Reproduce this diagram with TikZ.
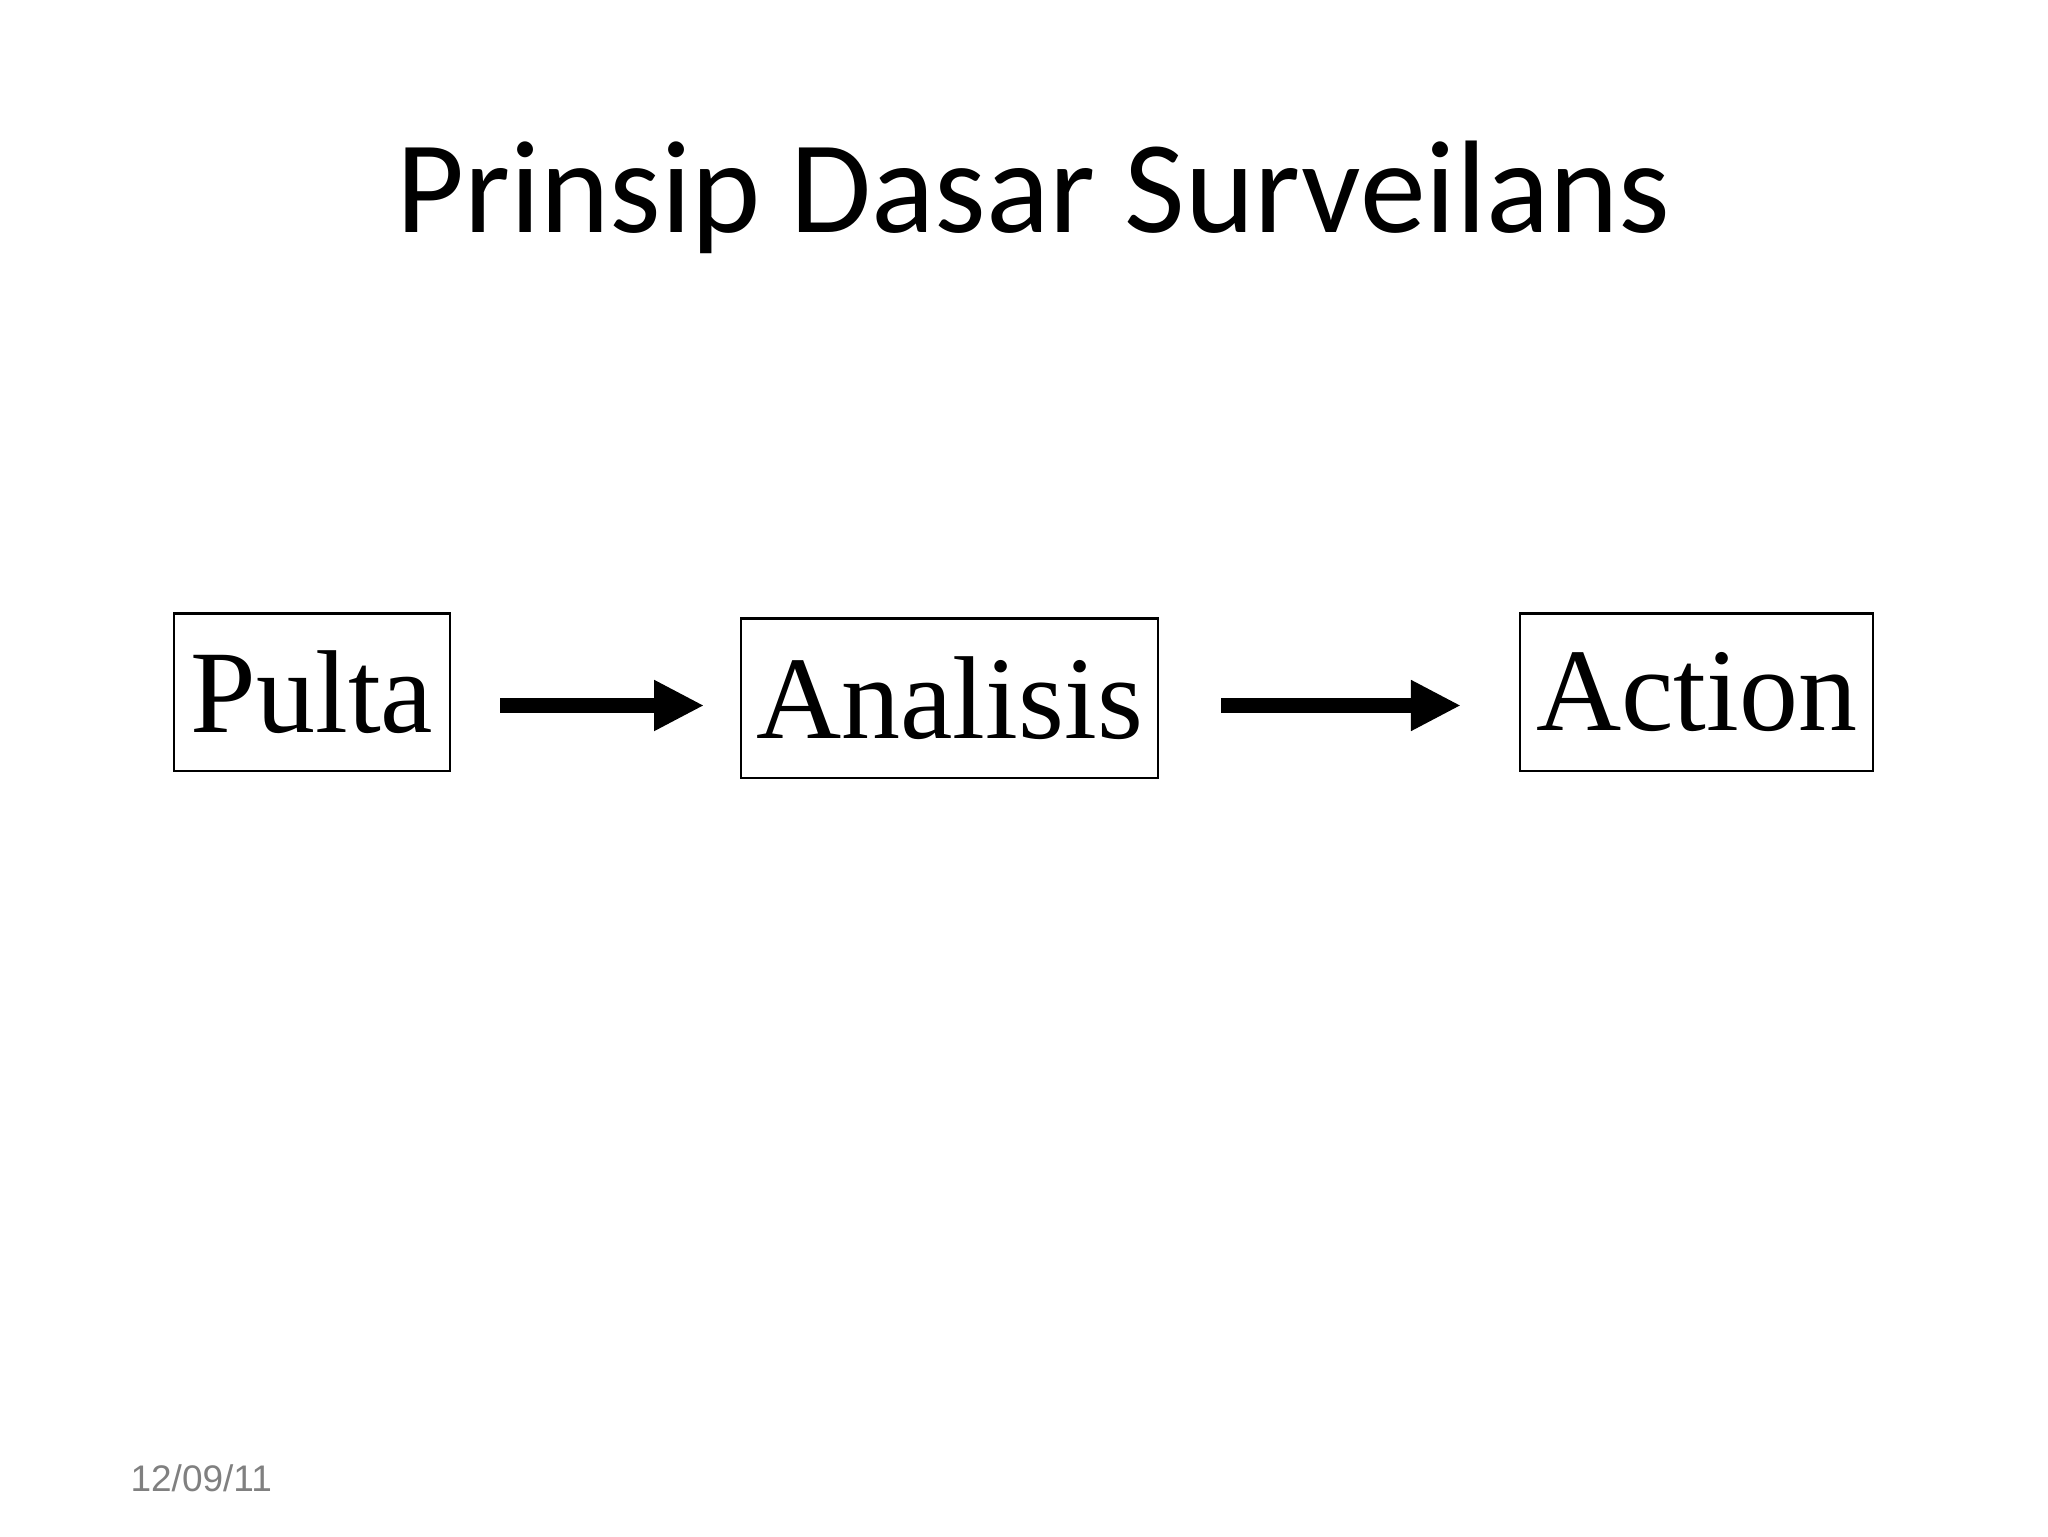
\documentclass[tikz,border=0pt]{standalone}
\usepackage{fontspec}
\setmainfont{Liberation Serif}
\newfontfamily\titlefont{Carlito}
\newfontfamily\datefont{Liberation Sans}
\usetikzlibrary{arrows.meta}
\begin{document}
\begin{tikzpicture}[x=0.02cm,y=-0.02cm,
  box/.style={draw,line width=1pt,inner sep=0pt,font=\fontsize{51}{55}\selectfont},
  flow/.style={line width=6.8pt,-{Triangle[length=38*0.02cm,width=36*0.02cm]},shorten <=0pt}]
\useasboundingbox (0,0) rectangle (1556,1167);
\node[font=\titlefont\fontsize{57}{62}\selectfont] (title) at (785,150) {Prinsip Dasar Surveilans};
\node[box,minimum width=210*0.02cm,minimum height=120*0.02cm] (p) at (237,526) {Pulta};
\node[box,minimum width=317*0.02cm,minimum height=121*0.02cm] (a) at (721.5,530.5) {Analisis};
\node[box,minimum width=268*0.02cm,minimum height=120*0.02cm] (c) at (1289,526) {Action};
\coordinate (a1) at (380,536); \coordinate (a2) at (535,536);
\coordinate (b1) at (928,536); \coordinate (b2) at (1110,536);
\draw[flow] (a1) -- (a2);
\draw[flow] (b1) -- (b2);
\node[font=\datefont\fontsize{16}{18}\selectfont,text=black!50,anchor=west] (d) at (93,1123) {12/09/11};
\end{tikzpicture}
\end{document}
